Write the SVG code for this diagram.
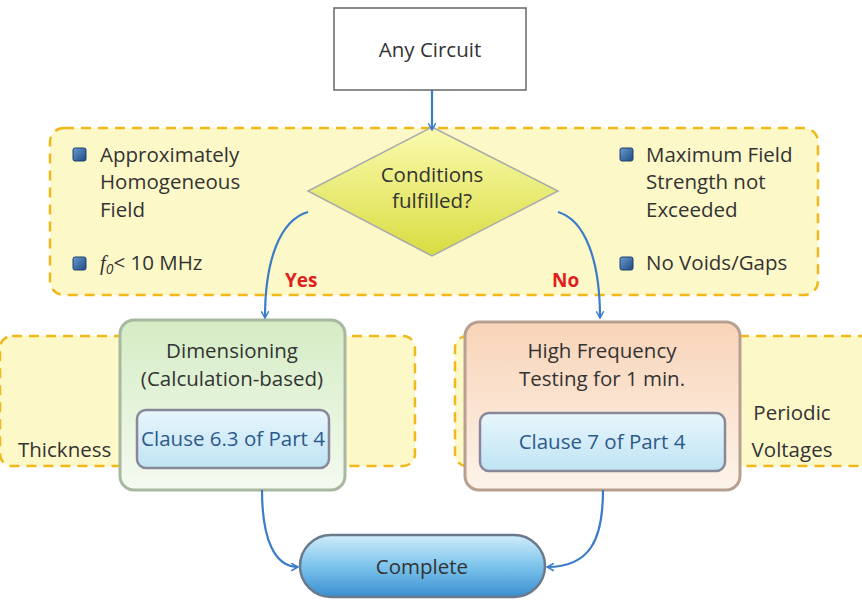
<svg xmlns="http://www.w3.org/2000/svg" width="862" height="606" viewBox="0 0 862 606">
<defs>
<style>
text{font-family:"Open Sans","Liberation Sans",sans-serif;font-size:20.5px;fill:#333}
.zone{fill:#fdf8c8;stroke:#f0b818;stroke-width:2.5;stroke-dasharray:10 7}
.c{stroke:#3a7cc8;stroke-width:2.2;fill:none;marker-end:url(#ah)}
.bl{fill:url(#bul);stroke:#1d3f6e;stroke-width:1}
.lbl{fill:#e02020;font-weight:bold;font-size:19px}
.in{fill:#2c5a8c}
</style>
<marker id="ah" viewBox="0 0 12 12" refX="10" refY="6" markerWidth="9" markerHeight="9" orient="auto-start-reverse" markerUnits="userSpaceOnUse"><path d="M1 1L10 6L1 11" fill="none" stroke="#3a7cc8" stroke-width="2"/></marker>
<linearGradient id="dia" x1="0" y1="0" x2="0" y2="1"><stop offset="0" stop-color="#fbfbb0"/><stop offset="1" stop-color="#d8dc40"/></linearGradient>
<linearGradient id="grn" x1="0" y1="0" x2="0" y2="1"><stop offset="0" stop-color="#d4ecc4"/><stop offset="1" stop-color="#f4faf0"/></linearGradient>
<linearGradient id="org" x1="0" y1="0" x2="0" y2="1"><stop offset="0" stop-color="#f8d4b8"/><stop offset="1" stop-color="#fdf3ea"/></linearGradient>
<linearGradient id="blu" x1="0" y1="0" x2="0" y2="1"><stop offset="0" stop-color="#e8f6fc"/><stop offset="1" stop-color="#bfe3f3"/></linearGradient>
<linearGradient id="pill" x1="0" y1="0" x2="0" y2="1"><stop offset="0" stop-color="#d0ecfa"/><stop offset="0.5" stop-color="#7cc4ec"/><stop offset="1" stop-color="#3a8ed0"/></linearGradient>
<linearGradient id="bul" x1="0" y1="0" x2="1" y2="1"><stop offset="0" stop-color="#6a9ad0"/><stop offset="1" stop-color="#1d4a82"/></linearGradient>
</defs>
<g id="zones">
<rect class="zone" x="50" y="128" width="768" height="167" rx="14"/>
<rect class="zone" x="0" y="336" width="415" height="130" rx="12"/>
<rect class="zone" x="455" y="336" width="420" height="130" rx="12"/>
</g>
<g id="any-circuit">
<rect x="334" y="8" width="192" height="82" fill="#fff" stroke="#666" stroke-width="1.5"/>
<text x="430" y="57" text-anchor="middle">Any Circuit</text>
</g>
<g id="conditions">
<polygon points="432,127 558,191 432,256 308,191" fill="url(#dia)" stroke="#aaa" stroke-width="1.5"/>
<text x="432" y="182" text-anchor="middle">Conditions</text>
<text x="432" y="208" text-anchor="middle">fulfilled?</text>
</g>
<g id="left-conds">
<rect class="bl" x="73" y="148" width="13" height="13" rx="2"/>
<text x="100" y="162">Approximately</text>
<text x="100" y="189">Homogeneous</text>
<text x="100" y="217">Field</text>
<rect class="bl" x="73" y="257" width="13" height="13" rx="2"/>
<text x="100" y="270"><tspan font-style="italic" font-family="Liberation Serif,serif">f</tspan><tspan font-size="14" dy="4" font-style="italic">0</tspan><tspan dy="-4">&lt; 10 MHz</tspan></text>
</g>
<g id="right-conds">
<rect class="bl" x="620" y="148" width="13" height="13" rx="2"/>
<text x="646" y="162">Maximum Field</text>
<text x="646" y="189">Strength not</text>
<text x="646" y="217">Exceeded</text>
<rect class="bl" x="620" y="257" width="13" height="13" rx="2"/>
<text x="646" y="270">No Voids/Gaps</text>
</g>
<g id="dimensioning">
<rect x="120" y="320" width="225" height="170" rx="14" fill="url(#grn)" stroke="#a8b8a0" stroke-width="3"/>
<text x="232" y="358" text-anchor="middle">Dimensioning</text>
<text x="232" y="386" text-anchor="middle">(Calculation-based)</text>
<rect x="137" y="410" width="192" height="58" rx="9" fill="url(#blu)" stroke="#889" stroke-width="2.5"/>
<text class="in" x="233" y="446" text-anchor="middle">Clause 6.3 of Part 4</text>
</g>
<g id="hf-testing">
<rect x="465" y="322" width="275" height="168" rx="14" fill="url(#org)" stroke="#b8a090" stroke-width="3"/>
<text x="602" y="358" text-anchor="middle">High Frequency</text>
<text x="602" y="386" text-anchor="middle">Testing for 1 min.</text>
<rect x="480" y="413" width="245" height="58" rx="9" fill="url(#blu)" stroke="#889" stroke-width="2.5"/>
<text class="in" x="602" y="449" text-anchor="middle">Clause 7 of Part 4</text>
</g>
<g id="side-labels">
<text x="18" y="457">Thickness</text>
<text x="792" y="420" text-anchor="middle">Periodic</text>
<text x="792" y="457" text-anchor="middle">Voltages</text>
</g>
<g id="complete">
<rect x="300" y="535" width="245" height="62" rx="31" fill="url(#pill)" stroke="#6a7a8a" stroke-width="2.5"/>
<text x="422" y="574" text-anchor="middle" fill="#1d3f6e">Complete</text>
</g>
<g id="connectors">
<path class="c" d="M432 90V130"/>
<path class="c" d="M308 212C280 220 265 260 265 318"/>
<path class="c" d="M558 212C585 220 600 260 600 318"/>
<path class="c" d="M262 490C262 540 275 567 298 567"/>
<path class="c" d="M603 490C603 540 590 567 547 567"/>
<text class="lbl" x="285" y="287">Yes</text>
<text class="lbl" x="552" y="287">No</text>
</g>
</svg>
